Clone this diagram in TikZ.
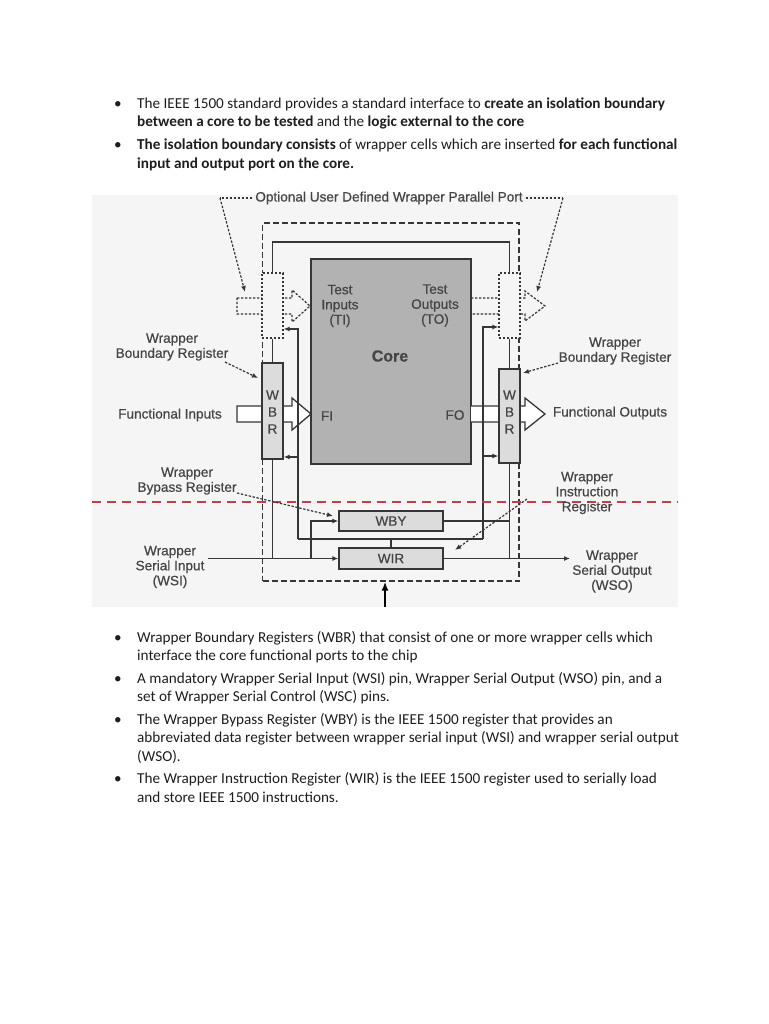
\documentclass[tikz,border=0pt]{standalone}
\usepackage{fontspec}
\setmainfont{Carlito}
\newfontfamily\arialf[FakeBold=0.6]{Liberation Sans}
\usetikzlibrary{arrows.meta}
\definecolor{bg}{HTML}{F5F5F5}
\definecolor{ln}{HTML}{363636}
\definecolor{txt}{HTML}{454545}
\definecolor{corefill}{HTML}{B2B2B2}
\definecolor{regfill}{HTML}{DCDCDC}
\definecolor{redd}{HTML}{C83C46}
\definecolor{bodyc}{HTML}{1E1E1E}
\begin{document}
\begin{tikzpicture}[x=1pt,y=-1pt,
 wire/.style={draw=ln, line width=1.5pt},
 arr/.style={wire, -{Latex[length=6pt,width=5pt]}},
 dotln/.style={draw=ln, line width=1.2pt, dash pattern=on 2.4pt off 1.6pt},
 dotarr/.style={dotln, -{Latex[length=6pt,width=5pt]}},
 reg/.style={draw=ln, fill=regfill, line width=1.3pt, inner sep=0pt},
 cellbox/.style={dotln, fill=bg, inner sep=0pt},
 lbl/.style={font=\arialf\fontsize{13.6}{15}\selectfont, text=txt, align=center, inner sep=0pt},
 wbrtxt/.style={font=\arialf\fontsize{13.6}{17}\selectfont, text=txt, align=center, inner sep=0pt},
 bodyt/.style={font=\fontsize{15.2}{18}\selectfont, text=bodyc, anchor=base west, inner sep=0pt},
 fatarrow/.style={draw=ln, line width=1.3pt, fill=white},
 dotfat/.style={dotln},
]
\useasboundingbox (0,0) rectangle (768,1024);
\fill[white] (0,0) rectangle (768,1024);

% ---------- body text (top) ----------
\node[bodyt] (b1) at (114,109) {\textbullet};
\node[bodyt] (t1a) at (137,109) {The IEEE 1500 standard provides a standard interface to \textbf{create an isolation boundary}};
\node[bodyt] (t1b) at (137,127) {\textbf{between a core to be tested} and the \textbf{logic external to the core}};
\node[bodyt] (b2) at (114,150) {\textbullet};
\node[bodyt] (t2a) at (137,150) {\textbf{The isolation boundary consists} of wrapper cells which are inserted \textbf{for each functional}};
\node[bodyt] (t2b) at (137,168.5) {\textbf{input and output port on the core.}};

% ---------- diagram background ----------
\fill[bg] (92,195) rectangle (678,607);

% wrapper boundary
\node[draw=ln, line width=1.3pt, dash pattern=on 6pt off 3pt, minimum width=256.5pt, minimum height=358pt, inner sep=0pt] (wrap) at (390.75,402) {};

% core
\node[draw=ln, fill=corefill, line width=1.4pt, minimum width=160pt, minimum height=205pt, inner sep=0pt] (core) at (391,361.5) {};

% fat arrows
\draw[fatarrow] (237,406) -- (292,406) -- (292,398) -- (311,414) -- (292,430) -- (292,422) -- (237,422) -- cycle;
\draw[fatarrow] (471,406) -- (525,406) -- (525,398) -- (545,414) -- (525,430) -- (525,422) -- (471,422);
\draw[dotfat] (237,298) -- (292,298) -- (292,290) -- (310,306) -- (292,322) -- (292,314) -- (237,314) -- cycle;
\draw[dotfat] (471,298) -- (525,298) -- (525,291) -- (545,306) -- (525,321) -- (525,314) -- (471,314);

% cells and registers
\node[cellbox, minimum width=21pt, minimum height=65pt] (cellL) at (272.5,305.5) {};
\node[cellbox, minimum width=21pt, minimum height=65pt] (cellR) at (509.5,305.5) {};
\node[reg, minimum width=21pt, minimum height=96pt] (wbrL) at (272.5,411) {};
\node[reg, minimum width=21pt, minimum height=94pt] (wbrR) at (509.5,416) {};
\node[reg, minimum width=104pt, minimum height=20pt, font=\arialf\fontsize{13.6}{15}\selectfont, text=txt] (wby) at (391,521) {WBY};
\node[reg, minimum width=104pt, minimum height=21pt, font=\arialf\fontsize{13.6}{15}\selectfont, text=txt] (wir) at (391,558.5) {WIR};
\node[wbrtxt] (lwbrL) at (272.5,412) {W\\B\\R};
\node[wbrtxt] (lwbrR) at (509.5,412) {W\\B\\R};

% top loop
\coordinate (topy) at (0,242);
\draw[wire] (cellL.north) -- (cellL.north |- topy) -| (cellR.north);
\draw[wire] (cellL.south) -- (wbrL.north);
\draw[wire] (cellR.south) -- (wbrR.north);

% serial input
\coordinate (wsi) at (208,558.5);
\coordinate (jb) at (311,558.5);
\draw[arr] (wsi) -- (wir.west);
\draw[wire] (wbrL.south) -- (wbrL.south |- wir.west);
\draw[arr] (jb) |- (wby.west);

% control lines
\coordinate (lc) at (298,539);
\coordinate (lcT) at (298,329);
\coordinate (lcW) at (298,457);
\coordinate (rc) at (483,539);
\coordinate (rcT) at (483,327);
\coordinate (rcW) at (483,456);
\draw[arr] (lc) -- (lcT) -- (lcT -| cellL.east);
\draw[arr] (lcW) -- (lcW -| wbrL.east);
\draw[arr] (rc) -- (rcT) -- (rcT -| cellR.west);
\draw[arr] (rcW) -- (rcW -| wbrR.west);
\draw[wire] (lc) -- (rc);
\draw[wire] (wir.north) -- (wir.north |- lc);

% serial output
\coordinate (wso) at (570,558.5);
\draw[arr] (wir.east) -- (wso);
\draw[wire] (wbrR.south) -- (wbrR.south |- wir.east);
\draw[wire] (wby.east) -- (wby.east -| wbrR.south);

% WSC input
\coordinate (wsc) at (385,607);
\draw[draw=black, line width=2.2pt, -{Latex[length=9pt,width=7pt]}] (wsc) -- (wsc |- wrap.south);

% red dashed line
\coordinate (rdL) at (92,502);
\coordinate (rdR) at (678,502);
\draw[draw=redd, line width=1.3pt, dash pattern=on 9pt off 6pt] (rdL) -- (rdR);

% labels
\node[lbl] (ttl) at (389,198) {Optional User Defined Wrapper Parallel Port};
\coordinate (tl) at (220,198);
\coordinate (tlTip) at (245,292);
\coordinate (tr) at (563,198);
\coordinate (trTip) at (537,292);
\draw[dotln] ([xshift=-3pt]ttl.west) -- (tl);
\draw[dotarr] (tl) -- (tlTip);
\draw[dotln] ([xshift=3pt]ttl.east) -- (tr);
\draw[dotarr] (tr) -- (trTip);

\node[lbl] (lWBRL) at (172,347) {Wrapper\\Boundary Register};
\node[lbl] (lWBRR) at (615,351) {Wrapper\\Boundary Register};
\coordinate (aWBRL) at (225,362);
\coordinate (aWBRLt) at (258,378);
\draw[dotarr] (aWBRL) -- (aWBRLt);
\coordinate (aWBRR) at (558,363);
\coordinate (aWBRRt) at (523,373);
\draw[dotarr] (aWBRR) -- (aWBRRt);

\node[lbl] (lFI) at (170,415) {Functional Inputs};
\node[lbl] (lFO) at (610,413) {Functional Outputs};
\node[lbl] (lfi) at (327,416) {FI};
\node[lbl] (lfo) at (455,415) {FO};
\node[lbl] (lTI) at (340,306) {Test\\Inputs\\(TI)};
\node[lbl] (lTO) at (435,305.5) {Test\\Outputs\\(TO)};
\node[font=\arialf\bfseries\fontsize{16}{18}\selectfont, text=txt, inner sep=0pt] (lcore) at (390,356) {Core};

\node[lbl] (lWBY) at (187,481) {Wrapper\\Bypass Register};
\coordinate (aWBY) at (237,493);
\coordinate (aWBYt) at (333,516);
\draw[dotarr] (aWBY) -- (aWBYt);
\node[lbl] (lWIR) at (587,493) {Wrapper\\Instruction\\Register};
\coordinate (aWIR) at (527,499);
\coordinate (aWIRt) at (455,550);
\draw[dotarr] (aWIR) -- (aWIRt);
\node[lbl] (lWSI) at (170,567) {Wrapper\\Serial Input\\(WSI)};
\node[lbl] (lWSO) at (612,571.5) {Wrapper\\Serial Output\\(WSO)};

% ---------- body text (bottom) ----------
\node[bodyt] (b3) at (114,642) {\textbullet};
\node[bodyt] (t3a) at (137,642) {Wrapper Boundary Registers (WBR) that consist of one or more wrapper cells which};
\node[bodyt] (t3b) at (137,660.5) {interface the core functional ports to the chip};
\node[bodyt] (b4) at (114,683) {\textbullet};
\node[bodyt] (t4a) at (137,683) {A mandatory Wrapper Serial Input (WSI) pin, Wrapper Serial Output (WSO) pin, and a};
\node[bodyt] (t4b) at (137,701.5) {set of Wrapper Serial Control (WSC) pins.};
\node[bodyt] (b5) at (114,724) {\textbullet};
\node[bodyt] (t5a) at (137,724) {The Wrapper Bypass Register (WBY) is the IEEE 1500 register that provides an};
\node[bodyt] (t5b) at (137,742.5) {abbreviated data register between wrapper serial input (WSI) and wrapper serial output};
\node[bodyt] (t5c) at (137,761) {(WSO).};
\node[bodyt] (b6) at (114,783.5) {\textbullet};
\node[bodyt] (t6a) at (137,783.5) {The Wrapper Instruction Register (WIR) is the IEEE 1500 register used to serially load};
\node[bodyt] (t6b) at (137,802) {and store IEEE 1500 instructions.};
\end{tikzpicture}
\end{document}
